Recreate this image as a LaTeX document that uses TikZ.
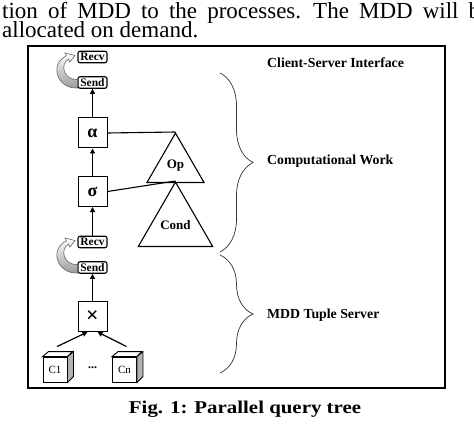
\documentclass[tikz,border=0pt]{standalone}
\usepackage{fontspec}
\usepackage{graphicx}
\setmainfont{Liberation Serif}
\usetikzlibrary{shapes.geometric,decorations.pathreplacing,arrows.meta,calc}
\begin{document}
\begin{tikzpicture}[x=1pt,y=-1pt,
  opbox/.style={draw,line width=1pt,minimum width=29pt,minimum height=30pt,inner sep=0pt,font=\fontsize{18}{18}\selectfont\bfseries},
  msgbox/.style={draw,line width=1.1pt,rounded corners=2pt,minimum width=29pt,minimum height=11.5pt,inner sep=0pt,font=\fontsize{11.5}{11.5}\selectfont\bfseries},
  arr/.style={line width=1.2pt,-{Triangle[length=5pt,width=5pt]}},
  tri/.style={draw,regular polygon,regular polygon sides=3,minimum size=65.8pt,inner sep=0pt,line width=1.1pt,font=\fontsize{13}{13}\selectfont\bfseries},
  cube/.style={draw,line width=0.9pt,minimum width=24pt,minimum height=25pt,inner sep=0pt,font=\fontsize{11}{11}\selectfont},
  curly/.style={decorate,decoration={brace,amplitude=33pt},line width=0.7pt,draw=black!80},
  lbl/.style={anchor=west,inner sep=0pt,font=\fontsize{13.8}{14}\selectfont\bfseries},
  body/.style={anchor=base west,inner sep=0pt,font=\fontsize{23}{23}\selectfont},
  pics/bounce/.style={code={
    \path[draw=black!60,line width=0.6pt,top color=white,bottom color=black!40]
      (0,-3) .. controls (-14.5,-2.5) and (-17.5,-18.5) .. (-9,-23.3)
      -- (-7.5,-20.5) -- (-2.5,-27) -- (-12.5,-29.5) -- (-11,-26.7)
      .. controls (-28.5,-18.5) and (-20.5,6.5) .. (0,5.5) -- cycle;
  }}
]
\useasboundingbox (0,0) rectangle (474,425);
\clip (0,0) rectangle (474,425);
\fill[white] (0,0) rectangle (474,425);

% running text
\node[body] (t1) at (2,19) {\spaceskip=10.1pt\relax tion of MDD to the processes. The MDD will be};
\node[body] (t2) at (2,37.5) {allocated on demand.};

% frame
\draw[line width=1.6pt] (28,46) rectangle (445,388);

% nodes
\node[msgbox] (r1) at (92.5,57) {Recv};
\node[msgbox] (s1) at (92.5,82.5) {Send};
\node[opbox] (al) at (92.5,133) {α};
\node[opbox] (sg) at (92.5,191.5) {σ};
\node[msgbox] (r2) at (92.5,242) {Recv};
\node[msgbox] (s2) at (92.5,267.5) {Send};
\node[opbox,font=\fontsize{22}{22}\selectfont\bfseries] (xx) at (92.5,316.5) {×};
\node[cube] (c1) at (55,369.5) {C1};
\node[cube] (cn) at (124.5,369.5) {Cn};
\node[inner sep=0pt,font=\fontsize{12}{12}\selectfont\bfseries] (dots) at (92.5,368) {...};
\node[tri] (op) at (175.5,166) {Op};
\node[tri] (cond) at (175.5,225) {Cond};

% bounce arrows
\pic at (s1.west) {bounce};
\pic at (s2.west) {bounce};

% cube depth
\foreach \c in {c1,cn} {
  \draw[line width=0.9pt,fill=white] (\c.north west) -- ++(6,-5) -- ++(24,0) -- (\c.north east) -- cycle;
  \draw[line width=0.9pt,fill=black!30] (\c.north east) -- ++(6,-5) -- ++(0,25) -- (\c.south east) -- cycle;
}

% connectors
\draw[arr] (al) -- (s1);
\draw[arr] (sg) -- (al);
\draw[arr] (r2) -- (sg);
\draw[arr] (xx) -- (s2);
\draw[arr] ([shift={(2,-10)}]c1.north) -- ([xshift=-5]xx.south);
\draw[arr] ([shift={(2,-10)}]cn.north) -- ([xshift=5]xx.south);
\draw[line width=1.1pt] (al.east) -- (op.corner 1);
\draw[line width=1.1pt] (sg.east) -- (cond.corner 1);

% braces
\draw[curly] (220,73) -- (220,252);
\draw[curly] (220,255) -- (220,373);

% labels
\node[lbl] (csi) at (267,63) {Client-Server Interface};
\node[lbl] (cw) at (267,161.5) {Computational Work};
\node[lbl] (mts) at (267,315) {MDD Tuple Server};

% caption
\node[anchor=base,inner sep=0pt,font=\fontsize{18}{18}\selectfont\bfseries] (cap) at (245,413) {\scalebox{1.16}[1]{Fig. 1: Parallel query tree}};
\end{tikzpicture}
\end{document}
